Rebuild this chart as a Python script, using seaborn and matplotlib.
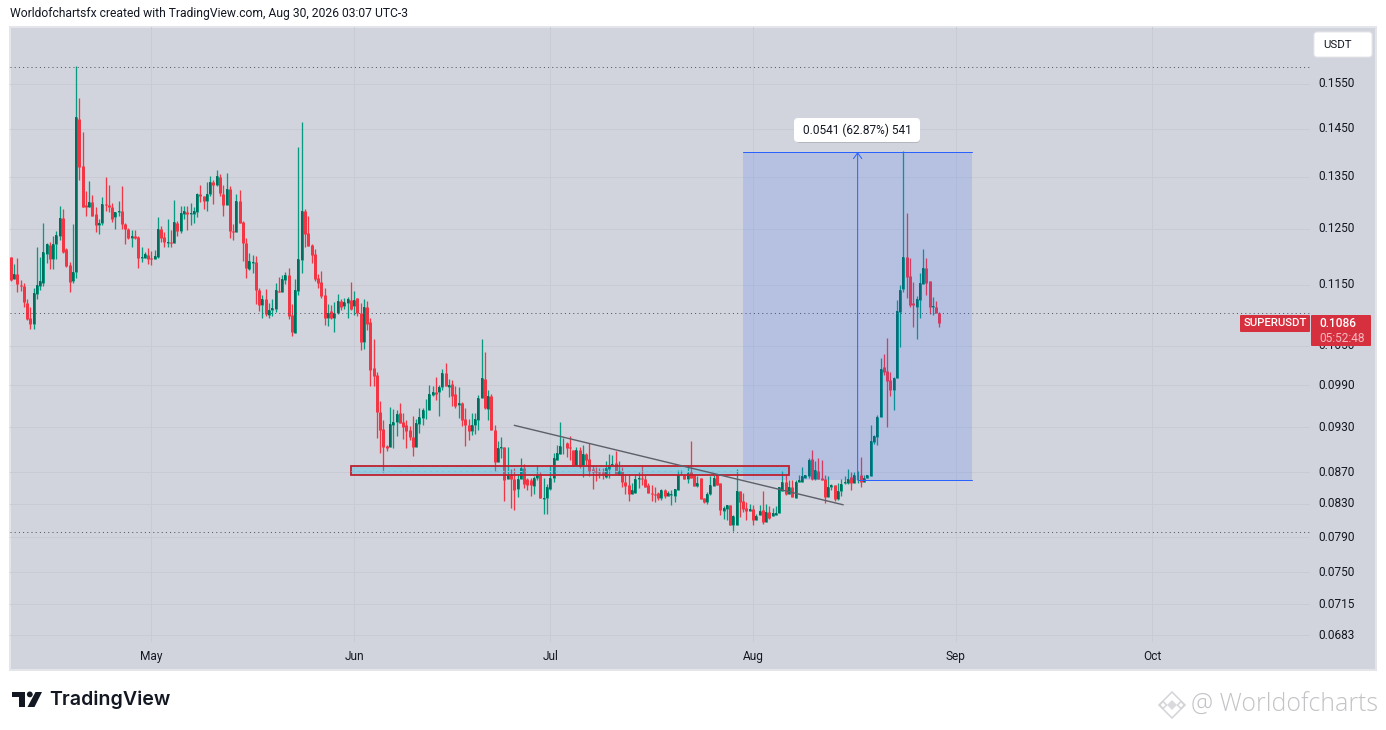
import numpy as np
import pandas as pd
import seaborn as sns
import matplotlib.dates as mdates
from matplotlib import pyplot as plt
from matplotlib.patches import FancyBboxPatch, Polygon, Rectangle

# 12h candles, first one opens Apr 9 21:00 (chart is in UTC-3)
first_bar = "2026-04-09 21:00"

opens = [
    0.1199, 0.1159, 0.1169, 0.1150, 0.1148, 0.1119, 0.1094, 0.1084, 0.1135, 0.1148,
    0.1153, 0.1204, 0.1220, 0.1194, 0.1221, 0.1237, 0.1270, 0.1213, 0.1184, 0.1157,
    0.1172, 0.1472, 0.1372, 0.1295, 0.1290, 0.1300, 0.1278, 0.1256, 0.1261, 0.1297,
    0.1295, 0.1291, 0.1271, 0.1281, 0.1283, 0.1259, 0.1249, 0.1233, 0.1236, 0.1235,
    0.1196, 0.1197, 0.1202, 0.1197, 0.1194, 0.1199, 0.1249, 0.1235, 0.1224, 0.1225,
    0.1224, 0.1260, 0.1246, 0.1278, 0.1281, 0.1277, 0.1278, 0.1282, 0.1317, 0.1313,
    0.1303, 0.1316, 0.1340, 0.1333, 0.1350, 0.1317, 0.1294, 0.1325, 0.1245, 0.1243,
    0.1303, 0.1262, 0.1224, 0.1177, 0.1188, 0.1189, 0.1141, 0.1116, 0.1125, 0.1100,
    0.1108, 0.1109, 0.1139, 0.1138, 0.1158, 0.1167, 0.1099, 0.1071, 0.1140, 0.1193,
    0.1283, 0.1242, 0.1220, 0.1204, 0.1162, 0.1155, 0.1133, 0.1094, 0.1106, 0.1094,
    0.1102, 0.1122, 0.1114, 0.1119, 0.1124, 0.1114, 0.1128, 0.1103, 0.1056, 0.1113,
    0.1088, 0.1016, 0.1005, 0.0952, 0.0928, 0.0905, 0.0904, 0.0934, 0.0937, 0.0950,
    0.0937, 0.0934, 0.0927, 0.0917, 0.0904, 0.0935, 0.0943, 0.0954, 0.0954, 0.0976,
    0.0981, 0.0980, 0.0988, 0.1008, 0.0987, 0.0992, 0.0977, 0.0962, 0.0965, 0.0942,
    0.0934, 0.0925, 0.0934, 0.0941, 0.0972, 0.0999, 0.0956, 0.0975, 0.0927, 0.0883,
    0.0902, 0.0904, 0.0861, 0.0868, 0.0861, 0.0849, 0.0861, 0.0875, 0.0861, 0.0860,
    0.0853, 0.0863, 0.0867, 0.0836, 0.0838, 0.0849, 0.0863, 0.0886, 0.0894, 0.0907,
    0.0909, 0.0904, 0.0900, 0.0879, 0.0900, 0.0879, 0.0894, 0.0887, 0.0874, 0.0872,
    0.0871, 0.0870, 0.0864, 0.0874, 0.0880, 0.0882, 0.0867, 0.0872, 0.0858, 0.0854,
    0.0842, 0.0844, 0.0861, 0.0863, 0.0862, 0.0854, 0.0844, 0.0843, 0.0844, 0.0838,
    0.0848, 0.0840, 0.0841, 0.0840, 0.0848, 0.0866, 0.0867, 0.0861, 0.0871, 0.0867,
    0.0852, 0.0863, 0.0838, 0.0832, 0.0842, 0.0853, 0.0868, 0.0856, 0.0821, 0.0824,
    0.0829, 0.0805, 0.0805, 0.0846, 0.0834, 0.0825, 0.0822, 0.0824, 0.0811, 0.0816,
    0.0823, 0.0808, 0.0820, 0.0815, 0.0817, 0.0819, 0.0846, 0.0858, 0.0842, 0.0851,
    0.0838, 0.0858, 0.0858, 0.0863, 0.0865, 0.0887, 0.0862, 0.0872, 0.0863, 0.0861,
    0.0839, 0.0851, 0.0854, 0.0836, 0.0846, 0.0856, 0.0856, 0.0864, 0.0856, 0.0866,
    0.0867, 0.0858, 0.0863, 0.0865, 0.0910, 0.0917, 0.0944, 0.1017, 0.1011, 0.0998,
    0.0984, 0.1001, 0.1104, 0.1143, 0.1198, 0.1165, 0.1119, 0.1113, 0.1124, 0.1151,
    0.1179, 0.1156, 0.1113, 0.1113, 0.1102,
]
highs = [
    0.1199, 0.1186, 0.1196, 0.1158, 0.1153, 0.1126, 0.1112, 0.1145, 0.1216, 0.1198,
    0.1260, 0.1223, 0.1225, 0.1236, 0.1246, 0.1293, 0.1287, 0.1214, 0.1189, 0.1259,
    0.1591, 0.1518, 0.1443, 0.1322, 0.1342, 0.1314, 0.1291, 0.1268, 0.1310, 0.1350,
    0.1334, 0.1298, 0.1281, 0.1302, 0.1332, 0.1261, 0.1251, 0.1248, 0.1247, 0.1236,
    0.1216, 0.1208, 0.1215, 0.1209, 0.1211, 0.1272, 0.1254, 0.1244, 0.1268, 0.1248,
    0.1304, 0.1264, 0.1293, 0.1293, 0.1293, 0.1298, 0.1291, 0.1319, 0.1334, 0.1313,
    0.1340, 0.1352, 0.1344, 0.1364, 0.1355, 0.1334, 0.1358, 0.1331, 0.1259, 0.1317,
    0.1324, 0.1264, 0.1233, 0.1205, 0.1202, 0.1200, 0.1145, 0.1132, 0.1143, 0.1119,
    0.1126, 0.1153, 0.1163, 0.1167, 0.1172, 0.1179, 0.1118, 0.1160, 0.1412, 0.1465,
    0.1287, 0.1274, 0.1222, 0.1213, 0.1169, 0.1174, 0.1145, 0.1118, 0.1116, 0.1121,
    0.1134, 0.1126, 0.1128, 0.1129, 0.1155, 0.1139, 0.1128, 0.1119, 0.1126, 0.1122,
    0.1094, 0.1061, 0.1010, 0.0968, 0.0940, 0.0906, 0.0959, 0.0956, 0.0955, 0.0964,
    0.0950, 0.0940, 0.0932, 0.0946, 0.0942, 0.0958, 0.0958, 0.0970, 0.0991, 0.0989,
    0.1003, 0.0991, 0.1015, 0.1023, 0.0999, 0.0998, 0.0989, 0.0988, 0.0966, 0.0958,
    0.0942, 0.0950, 0.0950, 0.0976, 0.1061, 0.1041, 0.0983, 0.0977, 0.0934, 0.0912,
    0.0917, 0.0904, 0.0904, 0.0874, 0.0875, 0.0868, 0.0889, 0.0881, 0.0863, 0.0863,
    0.0865, 0.0879, 0.0870, 0.0863, 0.0855, 0.0880, 0.0896, 0.0906, 0.0937, 0.0916,
    0.0910, 0.0918, 0.0900, 0.0904, 0.0904, 0.0906, 0.0896, 0.0909, 0.0880, 0.0877,
    0.0875, 0.0875, 0.0885, 0.0894, 0.0893, 0.0898, 0.0885, 0.0877, 0.0868, 0.0868,
    0.0856, 0.0868, 0.0870, 0.0880, 0.0867, 0.0856, 0.0854, 0.0851, 0.0845, 0.0849,
    0.0849, 0.0846, 0.0848, 0.0849, 0.0873, 0.0873, 0.0868, 0.0880, 0.0912, 0.0868,
    0.0865, 0.0863, 0.0838, 0.0845, 0.0865, 0.0867, 0.0868, 0.0856, 0.0827, 0.0829,
    0.0829, 0.0816, 0.0874, 0.0846, 0.0844, 0.0832, 0.0830, 0.0829, 0.0818, 0.0829,
    0.0846, 0.0830, 0.0827, 0.0825, 0.0827, 0.0851, 0.0872, 0.0867, 0.0860, 0.0860,
    0.0860, 0.0867, 0.0877, 0.0867, 0.0889, 0.0899, 0.0885, 0.0889, 0.0886, 0.0867,
    0.0865, 0.0855, 0.0854, 0.0856, 0.0861, 0.0865, 0.0874, 0.0871, 0.0871, 0.0872,
    0.0890, 0.0867, 0.0867, 0.0934, 0.0920, 0.0948, 0.1031, 0.1037, 0.1062, 0.1010,
    0.1002, 0.1124, 0.1150, 0.1402, 0.1279, 0.1196, 0.1154, 0.1131, 0.1170, 0.1212,
    0.1196, 0.1157, 0.1130, 0.1122, 0.1104,
]
lows = [
    0.1157, 0.1159, 0.1138, 0.1140, 0.1113, 0.1091, 0.1077, 0.1077, 0.1126, 0.1141,
    0.1148, 0.1188, 0.1177, 0.1178, 0.1194, 0.1229, 0.1206, 0.1181, 0.1137, 0.1153,
    0.1162, 0.1344, 0.1291, 0.1273, 0.1290, 0.1274, 0.1243, 0.1241, 0.1257, 0.1283,
    0.1281, 0.1262, 0.1250, 0.1274, 0.1250, 0.1222, 0.1230, 0.1217, 0.1231, 0.1179,
    0.1190, 0.1196, 0.1186, 0.1185, 0.1194, 0.1197, 0.1226, 0.1217, 0.1217, 0.1217,
    0.1224, 0.1237, 0.1242, 0.1268, 0.1248, 0.1257, 0.1260, 0.1271, 0.1301, 0.1287,
    0.1283, 0.1313, 0.1297, 0.1332, 0.1312, 0.1274, 0.1294, 0.1233, 0.1229, 0.1243,
    0.1261, 0.1192, 0.1162, 0.1176, 0.1171, 0.1118, 0.1106, 0.1094, 0.1098, 0.1094,
    0.1098, 0.1104, 0.1138, 0.1138, 0.1151, 0.1093, 0.1065, 0.1071, 0.1133, 0.1171,
    0.1216, 0.1218, 0.1188, 0.1156, 0.1145, 0.1128, 0.1083, 0.1081, 0.1093, 0.1072,
    0.1101, 0.1108, 0.1109, 0.1094, 0.1108, 0.1099, 0.1098, 0.1044, 0.1045, 0.1075,
    0.0989, 0.0989, 0.0916, 0.0895, 0.0870, 0.0898, 0.0904, 0.0902, 0.0918, 0.0936,
    0.0914, 0.0902, 0.0913, 0.0892, 0.0904, 0.0923, 0.0934, 0.0942, 0.0954, 0.0975,
    0.0969, 0.0946, 0.0983, 0.0989, 0.0973, 0.0960, 0.0958, 0.0943, 0.0932, 0.0905,
    0.0913, 0.0920, 0.0921, 0.0927, 0.0972, 0.0956, 0.0940, 0.0927, 0.0872, 0.0883,
    0.0889, 0.0834, 0.0861, 0.0825, 0.0823, 0.0839, 0.0861, 0.0850, 0.0848, 0.0840,
    0.0843, 0.0860, 0.0837, 0.0818, 0.0818, 0.0847, 0.0858, 0.0886, 0.0894, 0.0894,
    0.0890, 0.0886, 0.0878, 0.0878, 0.0875, 0.0864, 0.0880, 0.0865, 0.0849, 0.0859,
    0.0863, 0.0862, 0.0863, 0.0863, 0.0880, 0.0868, 0.0867, 0.0851, 0.0843, 0.0834,
    0.0842, 0.0844, 0.0850, 0.0854, 0.0851, 0.0844, 0.0834, 0.0832, 0.0835, 0.0835,
    0.0838, 0.0840, 0.0829, 0.0832, 0.0848, 0.0866, 0.0861, 0.0856, 0.0863, 0.0852,
    0.0851, 0.0836, 0.0831, 0.0830, 0.0841, 0.0852, 0.0854, 0.0816, 0.0812, 0.0811,
    0.0804, 0.0797, 0.0805, 0.0814, 0.0820, 0.0811, 0.0821, 0.0804, 0.0811, 0.0816,
    0.0806, 0.0808, 0.0812, 0.0815, 0.0817, 0.0819, 0.0846, 0.0841, 0.0842, 0.0839,
    0.0838, 0.0858, 0.0858, 0.0863, 0.0863, 0.0860, 0.0860, 0.0861, 0.0860, 0.0831,
    0.0839, 0.0848, 0.0834, 0.0835, 0.0840, 0.0855, 0.0855, 0.0848, 0.0856, 0.0856,
    0.0851, 0.0858, 0.0863, 0.0865, 0.0907, 0.0906, 0.0944, 0.1005, 0.0931, 0.0975,
    0.0955, 0.1001, 0.1048, 0.1137, 0.1127, 0.1112, 0.1080, 0.1061, 0.1094, 0.1151,
    0.1133, 0.1101, 0.1099, 0.1102, 0.1080,
]
closes = [
    0.1158, 0.1169, 0.1151, 0.1147, 0.1120, 0.1093, 0.1085, 0.1136, 0.1149, 0.1156,
    0.1207, 0.1222, 0.1194, 0.1222, 0.1238, 0.1270, 0.1207, 0.1183, 0.1155, 0.1172,
    0.1475, 0.1370, 0.1291, 0.1290, 0.1300, 0.1274, 0.1256, 0.1260, 0.1297, 0.1295,
    0.1290, 0.1268, 0.1281, 0.1283, 0.1258, 0.1250, 0.1233, 0.1236, 0.1233, 0.1196,
    0.1198, 0.1203, 0.1194, 0.1194, 0.1201, 0.1249, 0.1233, 0.1225, 0.1225, 0.1224,
    0.1262, 0.1245, 0.1279, 0.1283, 0.1278, 0.1279, 0.1283, 0.1317, 0.1313, 0.1303,
    0.1317, 0.1339, 0.1333, 0.1351, 0.1318, 0.1294, 0.1325, 0.1245, 0.1244, 0.1303,
    0.1261, 0.1224, 0.1179, 0.1191, 0.1189, 0.1141, 0.1116, 0.1125, 0.1101, 0.1108,
    0.1111, 0.1141, 0.1138, 0.1160, 0.1167, 0.1098, 0.1072, 0.1141, 0.1195, 0.1283,
    0.1240, 0.1218, 0.1202, 0.1160, 0.1153, 0.1131, 0.1094, 0.1103, 0.1094, 0.1103,
    0.1122, 0.1113, 0.1121, 0.1126, 0.1109, 0.1124, 0.1103, 0.1056, 0.1113, 0.1085,
    0.1013, 0.1004, 0.0951, 0.0927, 0.0904, 0.0902, 0.0935, 0.0937, 0.0949, 0.0936,
    0.0931, 0.0925, 0.0917, 0.0904, 0.0936, 0.0945, 0.0955, 0.0955, 0.0977, 0.0981,
    0.0977, 0.0988, 0.1008, 0.0989, 0.0991, 0.0975, 0.0960, 0.0964, 0.0940, 0.0934,
    0.0925, 0.0934, 0.0942, 0.0972, 0.1001, 0.0958, 0.0975, 0.0927, 0.0883, 0.0902,
    0.0904, 0.0860, 0.0867, 0.0861, 0.0848, 0.0861, 0.0875, 0.0855, 0.0854, 0.0854,
    0.0863, 0.0867, 0.0838, 0.0838, 0.0851, 0.0863, 0.0889, 0.0895, 0.0905, 0.0908,
    0.0902, 0.0902, 0.0879, 0.0900, 0.0878, 0.0894, 0.0886, 0.0872, 0.0870, 0.0870,
    0.0869, 0.0868, 0.0875, 0.0880, 0.0881, 0.0868, 0.0872, 0.0858, 0.0852, 0.0842,
    0.0848, 0.0861, 0.0863, 0.0861, 0.0851, 0.0844, 0.0842, 0.0841, 0.0838, 0.0848,
    0.0840, 0.0844, 0.0842, 0.0849, 0.0867, 0.0867, 0.0861, 0.0869, 0.0863, 0.0852,
    0.0856, 0.0836, 0.0832, 0.0843, 0.0854, 0.0863, 0.0854, 0.0823, 0.0825, 0.0829,
    0.0805, 0.0815, 0.0846, 0.0832, 0.0824, 0.0822, 0.0824, 0.0811, 0.0815, 0.0822,
    0.0808, 0.0820, 0.0813, 0.0819, 0.0819, 0.0851, 0.0858, 0.0842, 0.0851, 0.0839,
    0.0858, 0.0860, 0.0865, 0.0867, 0.0886, 0.0861, 0.0873, 0.0861, 0.0860, 0.0839,
    0.0851, 0.0854, 0.0836, 0.0846, 0.0855, 0.0858, 0.0862, 0.0856, 0.0866, 0.0867,
    0.0858, 0.0863, 0.0867, 0.0911, 0.0918, 0.0944, 0.1015, 0.1010, 0.0997, 0.0983,
    0.1001, 0.1106, 0.1141, 0.1198, 0.1163, 0.1116, 0.1115, 0.1125, 0.1153, 0.1179,
    0.1153, 0.1113, 0.1114, 0.1102, 0.1086,
]

price_ticks = [0.1550, 0.1450, 0.1350, 0.1250, 0.1150, 0.1050, 0.0990, 0.0930,
               0.0870, 0.0830, 0.0790, 0.0750, 0.0715, 0.0683]
month_ticks = ["2026-05-01 09:00", "2026-06-01 09:00", "2026-07-01 09:00",
               "2026-08-01 09:00", "2026-09-01 09:00", "2026-10-01 09:00"]
month_labels = ["May", "Jun", "Jul", "Aug", "Sep", "Oct"]

dotted_levels = [0.1590, 0.1103, 0.0796]
measure_low, measure_high = 0.0860, 0.1401
zone_low, zone_high = 0.0866, 0.0878
trend_prices = [0.0933, 0.0829]

GREEN = "#089981"
GREEN_DARK = "#04695A"
RED = "#F23645"
BLUE = "#2962FF"
PANEL = "#D1D4DC"
GRID = "#C8CBD4"
INK = "#131722"
PX = 0.72  # one pixel in points at dpi 100


def ts(text):
    return pd.Timestamp(text)


def num(text):
    return mdates.date2num(pd.Timestamp(text))


sns.set_theme(style="white")
plt.rcParams["font.family"] = ["Roboto", "DejaVu Sans"]

candles = pd.DataFrame({"open": opens, "high": highs, "low": lows, "close": closes})
candles["date"] = pd.date_range(first_bar, periods=len(candles), freq="12h")
candles["bar"] = candles.index
candles["side"] = np.where(candles["close"] >= candles["open"], "up", "down")

wicks = candles.melt(id_vars=["bar", "date", "side"], value_vars=["high", "low"], value_name="price")
bodies = candles.melt(id_vars=["bar", "date", "side"], value_vars=["open", "close"], value_name="price")

fig = plt.figure(figsize=(13.86, 7.30), dpi=100, facecolor="white")

# page furniture lives on full-figure axes counted in pixels
back = fig.add_axes([0, 0, 1, 1], zorder=0)
back.set_xlim(0, 1386)
back.set_ylim(730, 0)
back.axis("off")
back.add_patch(Rectangle((10, 27), 1366, 643, facecolor=PANEL, edgecolor="#E4E5EA", lw=PX * 2))

ax = fig.add_axes([10 / 1386, (730 - 642) / 730, 1300 / 1386, 615 / 730], zorder=1)
ax.patch.set_alpha(0)

palette = {"up": GREEN, "down": RED}
sns.lineplot(data=wicks, x="date", y="price", units="bar", hue="side", palette=palette,
             estimator=None, legend=False, lw=PX * 1.3, solid_capstyle="butt", zorder=3, ax=ax)
sns.lineplot(data=bodies, x="date", y="price", units="bar", hue="side", palette=palette,
             estimator=None, legend=False, lw=PX * 3, solid_capstyle="butt", zorder=4, ax=ax)
sns.lineplot(data=bodies[bodies["side"] == "up"], x="date", y="price", units="bar",
             color=GREEN_DARK, estimator=None, legend=False, lw=PX * 1.8,
             solid_capstyle="butt", zorder=5, ax=ax)

ax.set_yscale("log")
ax.set_ylim(0.06760, 0.16871)
ax.set_xlim(ts("2026-04-09 18:26"), ts("2026-10-25 13:00"))

ax.yaxis.tick_right()
ax.set_yticks(price_ticks)
ax.set_yticklabels([f"{p:.4f}" for p in price_ticks])
ax.minorticks_off()
ax.set_xticks([ts(m) for m in month_ticks])
ax.set_xticklabels(month_labels)
ax.tick_params(axis="y", length=0, pad=6, labelsize=8.6, labelcolor=INK)
ax.tick_params(axis="x", length=0, pad=5.5, labelsize=8.6, labelcolor=INK)
for label in ax.get_yticklabels():
    label.set_va("center")
ax.grid(True, color=GRID, lw=PX)
ax.set_axisbelow(True)
ax.set(xlabel="", ylabel="")
sns.despine(ax=ax, left=True, right=True, top=True, bottom=True)

for level in dotted_levels:
    ax.axhline(level, color="#50535E", lw=PX, ls=(0, (1, 3.2)), zorder=6)

# measure box
left, right = num("2026-07-30 21:00"), num("2026-09-03 21:00")
ax.add_patch(Rectangle((left, measure_low), right - left, measure_high - measure_low,
                       facecolor=BLUE, alpha=0.16, edgecolor="none", zorder=7))
ax.plot([left, right], [measure_high, measure_high], color=BLUE, lw=PX, zorder=8)
ax.plot([num("2026-08-17 09:00"), right], [measure_low, measure_low], color=BLUE, lw=PX, zorder=8)
ax.annotate("", xy=(num("2026-08-17 09:00"), measure_high),
            xytext=(num("2026-08-17 09:00"), measure_low),
            arrowprops=dict(arrowstyle="->,head_length=0.35,head_width=0.25", color=BLUE,
                            lw=PX, shrinkA=0, shrinkB=0), zorder=8)

# support zone and falling trend line
zone_left, zone_right = num("2026-05-31 21:00"), num("2026-08-06 21:00")
ax.add_patch(Rectangle((zone_left, zone_low), zone_right - zone_left, zone_high - zone_low,
                       facecolor="#1FB8E8", alpha=0.3, edgecolor="none", zorder=7))
ax.add_patch(Rectangle((zone_left, zone_low), zone_right - zone_left, zone_high - zone_low,
                       facecolor="none", edgecolor="#C0202E", lw=PX * 1.8, zorder=8))
ax.plot([zone_left, zone_right], [np.sqrt(zone_low * zone_high)] * 2, color="#8FC4D8",
        lw=PX, ls=(0, (3, 3)), zorder=8)
ax.plot([num("2026-06-25 21:00"), num("2026-08-15 04:00")], trend_prices,
        color="#5D606B", lw=PX * 1.4, zorder=8)

front = fig.add_axes([0, 0, 1, 1], zorder=2)
front.set_xlim(0, 1386)
front.set_ylim(730, 0)
front.axis("off")
front.patch.set_alpha(0)

front.text(10, 14, "Worldofchartsfx created with TradingView.com, Aug 30, 2026 03:07 UTC-3",
           fontsize=8.7, color=INK, va="center", ha="left")

# measure label
front.add_patch(FancyBboxPatch((796, 120), 124, 23, boxstyle="round,pad=0,rounding_size=4",
                               facecolor="#9A9CA6", edgecolor="none", alpha=0.5))
front.add_patch(FancyBboxPatch((794, 118), 126, 24, boxstyle="round,pad=0,rounding_size=4",
                               facecolor="white", edgecolor="none"))
front.text(857, 130, "0.0541 (62.87%) 541", fontsize=8.6, color=INK, ha="center", va="center")

# axis widgets on the right
front.add_patch(FancyBboxPatch((1314, 32), 58, 25, boxstyle="round,pad=0,rounding_size=3",
                               facecolor="white", edgecolor="#E6E7EB", lw=PX))
front.text(1323, 44.5, "USDT", fontsize=8.2, color=INK, ha="left", va="center")
front.add_patch(FancyBboxPatch((1240, 315), 70, 17, boxstyle="round,pad=0,rounding_size=1",
                               facecolor="#D6303F", edgecolor="none"))
front.text(1275, 323.5, "SUPERUSDT", fontsize=8.2, color="white", ha="center", va="center",
           fontweight="medium")
front.add_patch(FancyBboxPatch((1311, 315), 60, 31, boxstyle="round,pad=0,rounding_size=1",
                               facecolor="#D6303F", edgecolor="none"))
front.text(1319, 323.5, "0.1086", fontsize=8.6, color="white", ha="left", va="center",
           fontweight="medium")
front.text(1319, 338, "05:52:48", fontsize=8.6, color="#F5B8BF", ha="left", va="center")

# TradingView logo
front.add_patch(Polygon([(12, 692), (25.3, 692), (25.3, 707), (19, 707), (19, 697), (12, 697)],
                        facecolor=INK, edgecolor="none"))
front.add_patch(plt.Circle((29.8, 694.4), 2.9, facecolor=INK, edgecolor="none"))
front.add_patch(Polygon([(35.5, 692), (42, 692), (34.5, 707), (27.5, 707)],
                        facecolor=INK, edgecolor="none"))
front.text(49, 700, "TradingView", family=["Inter", "DejaVu Sans"], fontsize=14.1,
           fontweight="semibold", color=INK, ha="left", va="center")

# watermark
for cx, cy, size in [(1172, 705, 13), (1163, 705, 3.5), (1181, 705, 3.5)]:
    front.add_patch(Polygon([(cx, cy - size), (cx + size, cy), (cx, cy + size), (cx - size, cy)],
                            facecolor="none", edgecolor="#D4D4D8", lw=PX * 1.5))
front.add_patch(Polygon([(1172, 700), (1177, 705), (1172, 710), (1167, 705)],
                        facecolor="#DADADE", edgecolor="none"))
front.text(1378, 705, "@ Worldofcharts", family=["Open Sans", "DejaVu Sans"], fontsize=17.9,
           fontweight="light", color="#C2C2C7", ha="right", va="center")

fig.savefig("out.png", dpi=100)
